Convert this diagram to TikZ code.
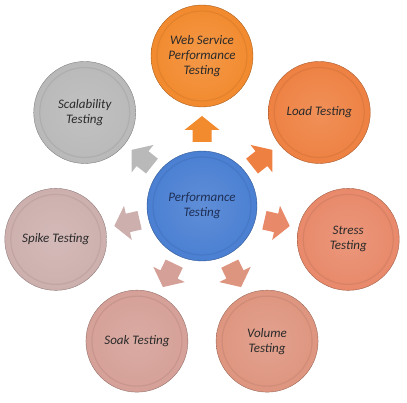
\documentclass[tikz,border=0pt]{standalone}
\usepackage{fontspec}
\setmainfont{Carlito}
\usetikzlibrary{calc}
\definecolor{perfblue}{HTML}{4A7FD2}
\definecolor{webor}{HTML}{F28A2E}
\definecolor{loador}{HTML}{EE8142}
\definecolor{stressor}{HTML}{E8896A}
\definecolor{volsal}{HTML}{DE957F}
\definecolor{soakpk}{HTML}{D5A097}
\definecolor{spikepk}{HTML}{CDB0AE}
\definecolor{scalgr}{HTML}{B9B9B9}
\definecolor{txtdark}{HTML}{2A2A2A}
\definecolor{txtnavy}{HTML}{1E2F55}
\tikzstyle{disc}=[circle, inner sep=0pt, minimum size=102pt, align=center,
  font=\fontsize{13}{15}\selectfont\itshape, text=txtdark]

\begin{document}
\begin{tikzpicture}[x=1pt,y=1pt]
\useasboundingbox (0,0) rectangle (407,403);
\coordinate (c) at (202,197);
% ring of test types, with a block arrow pointing at each
\foreach \a/\col/\nm/\txt in {90/webor/web/{Web Service\\Performance\\Testing},
    38.57/loador/load/{Load Testing}, -12.86/stressor/stress/{Stress\\Testing},
    -64.29/volsal/volume/{Volume\\Testing}, -115.71/soakpk/soak/{Soak Testing},
    -167.14/spikepk/spike/{Spike Testing}, 141.43/scalgr/scal/{Scalability\\Testing}}{
  \coordinate (arr\nm) at ($(c)+(\a:76)$);
  \fill[\col, shift={(arr\nm)}, rotate=\a] (-12,-9.5) -- (0,-9.5) -- (0,-17.5) -- (14,0)
    -- (0,17.5) -- (0,9.5) -- (-12,9.5) -- cycle; % block arrow
  \node[disc, draw=\col!70!black, inner color=\col!88!white, outer color=\col] (\nm) at ($(c)+(\a:150)$) {\txt};
  \draw[\col!75!black, opacity=.25, line width=1.2pt] (\nm.center) circle (45); % inner rim
}
% centre
\node[disc, minimum size=110pt, draw=perfblue!70!black, inner color=perfblue!88!white,
  outer color=perfblue, text=txtnavy] (perf) at (c) {Performance\\Testing};
\draw[perfblue!75!black, opacity=.25, line width=1.2pt] (perf.center) circle (49);
\end{tikzpicture}
\end{document}
